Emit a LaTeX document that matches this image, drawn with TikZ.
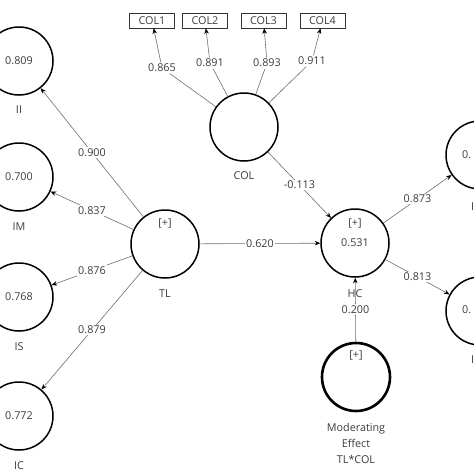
\documentclass[tikz,border=0pt]{standalone}
\usepackage{fontspec}
\setmainfont{Open Sans}
\usetikzlibrary{arrows.meta}
\definecolor{txt}{HTML}{3C3C3C}
\definecolor{ln}{HTML}{6E6E6E}
\tikzset{
  latent/.style={circle, draw=black, line width=1.5pt, minimum size=68pt, inner sep=0pt, text=txt, font=\fontsize{10.8}{13}\selectfont},
  modlatent/.style={latent, line width=2.6pt},
  indbox/.style={rectangle, draw=black!80, line width=0.7pt, minimum width=45pt, minimum height=15pt, inner sep=0pt, text=txt, font=\fontsize{10.8}{13}\selectfont},
  txtlab/.style={text=txt, font=\fontsize{10.8}{13}\selectfont, inner sep=1pt},
  val/.style={txtlab, fill=white, inner sep=1.5pt},
  conn/.style={draw=ln, line width=0.6pt},
  arr/.style={conn, -{Stealth[length=5.5pt,width=4.5pt,color=black]}},
}
\begin{document}
\begin{tikzpicture}[x=1pt,y=-1pt]
\useasboundingbox (0,0) rectangle (474,474);
\fill[white] (0,0) rectangle (474,474);
\clip (0,0) rectangle (474,474);

% left indicator constructs
\node[latent] (II) at (19,61) {0.809};
\node[latent] (IM) at (19,177) {0.700};
\node[latent] (IS) at (19,297) {0.768};
\node[latent] (IC) at (19,416) {0.772};
\node[txtlab] (IIlab) at (19,110) {II};
\node[txtlab] (IMlab) at (19,227) {IM};
\node[txtlab] (ISlab) at (19,347) {IS};
\node[txtlab] (IClab) at (19,466) {IC};

% TL
\node[latent] (TL) at (165,244) {};
\node[txtlab] (TLplus) at (165,223) {[+]};
\node[txtlab] (TLlab) at (165,294) {TL};

% COL and its indicators
\node[latent] (COL) at (244,127) {};
\node[txtlab] (COLlab) at (244,176) {COL};
\node[indbox] (COL1) at (152,20.5) {COL1};
\node[indbox] (COL2) at (205,20.5) {COL2};
\node[indbox] (COL3) at (263.5,20.5) {COL3};
\node[indbox] (COL4) at (322.5,20.5) {COL4};

% HC
\node[latent] (HC) at (355,243) {0.531};
\node[txtlab] (HCplus) at (355,223) {[+]};

% Moderating effect
\node[modlatent] (MOD) at (356,377) {};
\node[txtlab] (MODplus) at (356,355) {[+]};
\node[txtlab, align=center, font=\fontsize{10.8}{16}\selectfont] (MODlab) at (356,443) {Moderating\\Effect\\TL*COL};

% right constructs (cut off)
\node[latent] (R1) at (480,155) {};
\node[latent] (R2) at (480,311) {};
\node[txtlab, anchor=west, inner sep=0pt] (R1val) at (462,155) {0.};
\node[txtlab, anchor=west, inner sep=0pt] (R2val) at (462,310) {0.};
\node[txtlab, anchor=west, inner sep=0pt] (R1lab) at (471,207) {I};
\node[txtlab, anchor=west, inner sep=0pt] (R2lab) at (471,360) {I};

% TL loadings
\draw[arr] (TL) -- node[val] (v900) {0.900} (II);
\draw[arr] (TL) -- node[val] (v837) {0.837} (IM);
\draw[arr] (TL) -- node[val] (v876) {0.876} (IS);
\draw[arr] (TL) -- node[val] (v879) {0.879} (IC);

% COL loadings
\node[val] (v865) at (162,68) {0.865};
\node[val] (v891) at (210,63) {0.891};
\node[val] (v893) at (267,63) {0.893};
\node[val] (v911) at (312,61) {0.911};
\draw[conn] (COL) -- (v865); \draw[arr] (v865) -- (COL1);
\draw[conn] (COL) -- (v891); \draw[arr] (v891) -- (COL2);
\draw[conn] (COL) -- (v893); \draw[arr] (v893) -- (COL3);
\draw[conn] (COL) -- (v911); \draw[arr] (v911) -- (COL4);

% structural paths
\draw[arr] (TL) -- node[val] (v620) {0.620} (HC);
\draw[arr] (COL) -- node[val] (v113) {-0.113} (HC);
\draw[arr] (HC) -- node[val] (v873) {0.873} (R1);
\draw[arr] (HC) -- node[val] (v813) {0.813} (R2);
\draw[arr] (MOD) -- node[val] (v200) {0.200} (HC);
\node[txtlab] (HClab) at (355,294) {HC};
\end{tikzpicture}
\end{document}
